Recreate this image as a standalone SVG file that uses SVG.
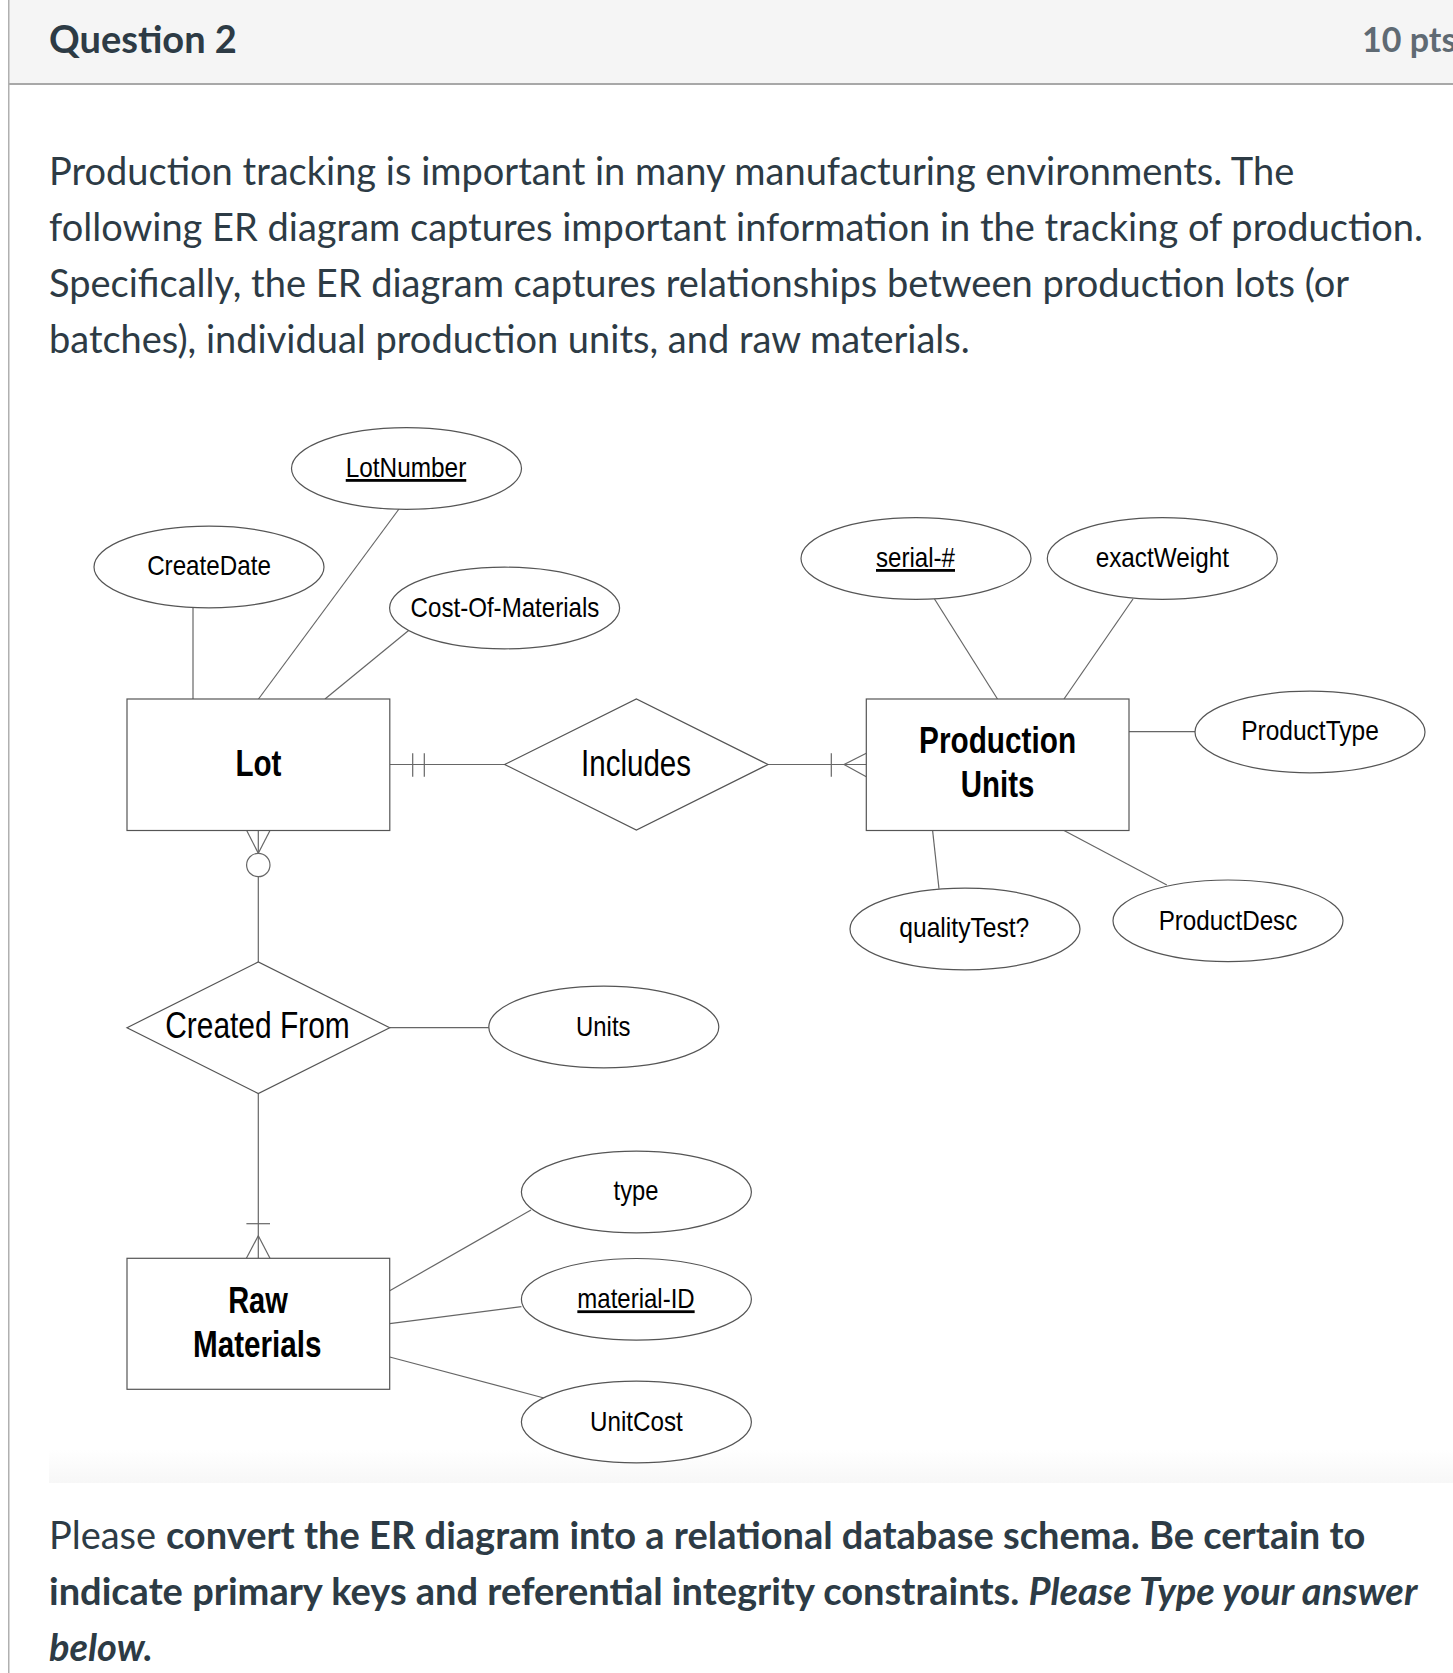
<svg xmlns="http://www.w3.org/2000/svg" width="1453" height="1673" viewBox="0 0 1453 1673">
<style>
.p{font-family:Lato,"Open Sans","Liberation Sans",sans-serif;fill:#2d3b45;font-size:38px}
.b{font-weight:700}
.i{font-style:italic;font-weight:700}
.s{fill:#fff;stroke:#555;stroke-width:1.2}
.c line,.c circle{stroke:#666;stroke-width:1.2;fill:none}
.a{font-family:"Liberation Sans",Arial,sans-serif;font-size:28px;fill:#000;text-anchor:middle}
.e{font-family:"Liberation Sans",Arial,sans-serif;font-size:36px;fill:#000;text-anchor:middle}
.eb{font-weight:700}
.u{text-decoration:underline}
</style>
<defs><linearGradient id="band" x1="0" y1="0" x2="0" y2="1"><stop offset="0" stop-color="#fff"/><stop offset="1" stop-color="#f7f7f7"/></linearGradient></defs>
<rect width="1453" height="1673" fill="#fff"/>
<g id="page">
<rect x="9" y="0" width="1444" height="84" fill="#f5f5f5"/>
<rect x="8" y="83" width="1445" height="2" fill="#a8a8a8"/>
<rect x="8" y="0" width="1.5" height="1673" fill="#b0b0b0"/>
<rect x="49" y="1450" width="1404" height="33" fill="url(#band)"/>
<text class="p b" x="49" y="53">Question 2</text>
<text class="p b" x="1362" y="52" style="font-size:34px;fill:#5f6a73">10 pts</text>
<text class="p" x="49" y="185">Production tracking is important in many manufacturing environments. The</text>
<text class="p" x="49" y="241">following ER diagram captures important information in the tracking of production.</text>
<text class="p" x="49" y="297">Specifically, the ER diagram captures relationships between production lots (or</text>
<text class="p" x="49" y="353">batches), individual production units, and raw materials.</text>
<text class="p" x="49" y="1549">Please <tspan class="b">convert the ER diagram into a relational database schema. Be certain to</tspan></text>
<text class="p b" x="49" y="1605">indicate primary keys and referential integrity constraints. <tspan class="i">Please Type your answer</tspan></text>
<text class="p i" x="49" y="1661">below.</text>
</g>
<g id="connectors" class="c">
<line x1="193" y1="607" x2="193" y2="699"/>
<line x1="399" y1="509" x2="258.5" y2="699"/>
<line x1="408.6" y1="630.5" x2="325" y2="699"/>
<line x1="390" y1="764.5" x2="504.6" y2="764.5"/>
<line x1="412.7" y1="753.3" x2="412.7" y2="776.7"/>
<line x1="424.3" y1="753.3" x2="424.3" y2="776.7"/>
<line x1="768" y1="764.5" x2="866.3" y2="764.5"/>
<line x1="831.3" y1="753.3" x2="831.3" y2="776.7"/>
<line x1="844" y1="764.5" x2="866.3" y2="753.3"/>
<line x1="844" y1="764.5" x2="866.3" y2="776.7"/>
<line x1="258.3" y1="830.5" x2="258.3" y2="853.3"/>
<line x1="246.7" y1="830.5" x2="258.3" y2="853.3"/>
<line x1="270" y1="830.5" x2="258.3" y2="853.3"/>
<circle cx="258.3" cy="865" r="11.7"/>
<line x1="258.3" y1="876.7" x2="258.3" y2="962"/>
<line x1="389.7" y1="1027.7" x2="488.8" y2="1027.7"/>
<line x1="258.3" y1="1093.5" x2="258.3" y2="1258.3"/>
<line x1="246.4" y1="1223.7" x2="270" y2="1223.7"/>
<line x1="258.3" y1="1235.7" x2="246.4" y2="1258.3"/>
<line x1="258.3" y1="1235.7" x2="270" y2="1258.3"/>
<line x1="389.7" y1="1290.7" x2="531" y2="1210"/>
<line x1="389.7" y1="1323.7" x2="521.4" y2="1306.7"/>
<line x1="389.7" y1="1357" x2="544" y2="1398"/>
<line x1="934.5" y1="599" x2="997.5" y2="699"/>
<line x1="1133" y1="599" x2="1064" y2="699"/>
<line x1="1129" y1="731.7" x2="1195.4" y2="731.7"/>
<line x1="932.6" y1="830.5" x2="939" y2="888.7"/>
<line x1="1064" y1="830.5" x2="1166.8" y2="885"/>
</g>
<g id="lot"><rect class="s" x="127" y="699" width="262.8" height="131.5"/><text class="e eb" x="258.4" y="775.5" textLength="46" lengthAdjust="spacingAndGlyphs">Lot</text></g>
<g id="includes"><polygon class="s" points="504.6,764.5 636.4,699 768,764.5 636.4,830"/><text class="e" x="636" y="776" textLength="110" lengthAdjust="spacingAndGlyphs">Includes</text></g>
<g id="production-units"><rect class="s" x="866.3" y="699" width="262.7" height="131.5"/><text class="e eb" x="997.6" y="752.7" textLength="157" lengthAdjust="spacingAndGlyphs">Production</text><text class="e eb" x="997.6" y="796.7" textLength="73.6" lengthAdjust="spacingAndGlyphs">Units</text></g>
<g id="created-from"><polygon class="s" points="127,1027.7 258.3,962 389.7,1027.7 258.3,1093.5"/><text class="e" x="257.5" y="1038.3" textLength="184.6" lengthAdjust="spacingAndGlyphs">Created From</text></g>
<g id="raw-materials"><rect class="s" x="127" y="1258.3" width="262.7" height="131"/><text class="e eb" x="258" y="1312.7" textLength="59.7" lengthAdjust="spacingAndGlyphs">Raw</text><text class="e eb" x="257.3" y="1356.7" textLength="128.5" lengthAdjust="spacingAndGlyphs">Materials</text></g>
<g id="lotnumber"><ellipse class="s" cx="406.5" cy="468.5" rx="115" ry="40.8"/><text class="a u" x="406" y="477" textLength="120.5" lengthAdjust="spacingAndGlyphs">LotNumber</text></g>
<g id="createdate"><ellipse class="s" cx="209" cy="567" rx="115" ry="40.8"/><text class="a" x="209" y="575" textLength="123.7" lengthAdjust="spacingAndGlyphs">CreateDate</text></g>
<g id="cost-of-materials"><ellipse class="s" cx="504.6" cy="608" rx="115" ry="40.8"/><text class="a" x="505" y="617" textLength="188.8" lengthAdjust="spacingAndGlyphs">Cost-Of-Materials</text></g>
<g id="serial"><ellipse class="s" cx="916" cy="558.5" rx="115" ry="40.8"/><text class="a u" x="915.5" y="567" textLength="79" lengthAdjust="spacingAndGlyphs">serial-#</text></g>
<g id="exactweight"><ellipse class="s" cx="1162.3" cy="558.5" rx="115" ry="40.8"/><text class="a" x="1162.3" y="567" textLength="133.3" lengthAdjust="spacingAndGlyphs">exactWeight</text></g>
<g id="producttype"><ellipse class="s" cx="1310" cy="732" rx="115" ry="40.8"/><text class="a" x="1310" y="740" textLength="137.6" lengthAdjust="spacingAndGlyphs">ProductType</text></g>
<g id="productdesc"><ellipse class="s" cx="1228" cy="920.8" rx="115" ry="40.8"/><text class="a" x="1228" y="930" textLength="138.7" lengthAdjust="spacingAndGlyphs">ProductDesc</text></g>
<g id="qualitytest"><ellipse class="s" cx="965" cy="929" rx="115" ry="40.8"/><text class="a" x="964.3" y="937.3" textLength="130" lengthAdjust="spacingAndGlyphs">qualityTest?</text></g>
<g id="units"><ellipse class="s" cx="603.8" cy="1027" rx="115" ry="40.8"/><text class="a" x="603.3" y="1036" textLength="54.4" lengthAdjust="spacingAndGlyphs">Units</text></g>
<g id="type"><ellipse class="s" cx="636.4" cy="1192" rx="115" ry="40.8"/><text class="a" x="636" y="1200" textLength="44.8" lengthAdjust="spacingAndGlyphs">type</text></g>
<g id="material-id"><ellipse class="s" cx="636.4" cy="1299.3" rx="115" ry="40.8"/><text class="a u" x="636" y="1308.3" textLength="117.3" lengthAdjust="spacingAndGlyphs">material-ID</text></g>
<g id="unitcost"><ellipse class="s" cx="636.4" cy="1422" rx="115" ry="40.8"/><text class="a" x="636.4" y="1431" textLength="92.8" lengthAdjust="spacingAndGlyphs">UnitCost</text></g>
</svg>
